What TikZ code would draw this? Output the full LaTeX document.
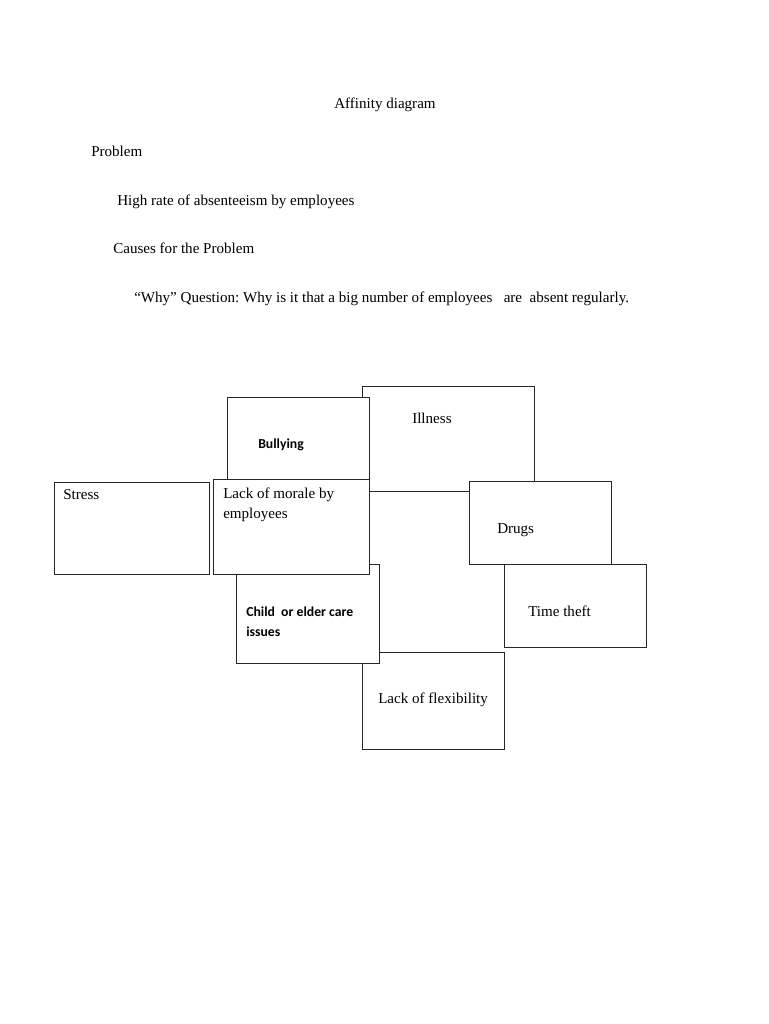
\documentclass[tikz,border=0pt]{standalone}
\usepackage{fontspec}
\setmainfont{Liberation Serif}
\newfontfamily\calfont{Carlito}
\begin{document}
\begin{tikzpicture}[x=0.75pt,y=-0.75pt,
  box/.style={draw=black!85, line width=0.6pt, fill=white, inner sep=0pt, outer sep=0pt, anchor=north west},
  txt/.style={anchor=base west, inner sep=0pt, yshift=-1.2pt, font=\fontsize{11.3}{13.5}\selectfont},
  bsans/.style={anchor=base west, inner sep=0pt, yshift=-1.2pt, font=\calfont\bfseries\fontsize{10.3}{12.5}\selectfont}]
\useasboundingbox[fill=white] (0,0) rectangle (768,1024);
% heading texts
\node[txt] (title) at (334,107) {Affinity diagram};
\node[txt] (problem) at (91,155) {Problem};
\node[txt] (high) at (117,204) {High rate of absenteeism by employees};
\node[txt] (causes) at (113,252) {Causes for the Problem};
\node[txt] (why) at (134,301) {``Why'' Question:\ Why is it that a big number of employees\ \ \ are\ \ absent regularly.};
% boxes (back to front)
\node[box, minimum width=172*0.75pt, minimum height=105*0.75pt] (illness) at (362,386) {};
\node[txt] (illnesst) at (412,422) {Illness};
\node[box, minimum width=142*0.75pt, minimum height=83*0.75pt] (bullying) at (227,397) {};
\node[bsans] (bullyingt) at (258,447) {Bullying};
\node[box, minimum width=142*0.75pt, minimum height=97*0.75pt] (flex) at (362,652) {};
\node[txt] (flext) at (378,702) {Lack of flexibility};
\node[box, minimum width=143*0.75pt, minimum height=99*0.75pt] (child) at (236,564) {};
\node[bsans] (childt1) at (246,615) {Child\ \ or elder care};
\node[bsans] (childt2) at (246,635) {issues};
\node[box, minimum width=156*0.75pt, minimum height=95*0.75pt] (morale) at (213,479) {};
\node[txt] (moralet1) at (223,497) {Lack of morale by};
\node[txt] (moralet2) at (223,517) {employees};
\node[box, minimum width=155*0.75pt, minimum height=92*0.75pt] (stress) at (54,482) {};
\node[txt] (stresst) at (63,498) {Stress};
\node[box, minimum width=142*0.75pt, minimum height=83*0.75pt] (drugs) at (469,481) {};
\node[txt] (drugst) at (497,532) {Drugs};
\node[box, minimum width=142*0.75pt, minimum height=83*0.75pt] (theft) at (504,564) {};
\node[txt] (theftt) at (528,615) {Time theft};
\end{tikzpicture}
\end{document}
